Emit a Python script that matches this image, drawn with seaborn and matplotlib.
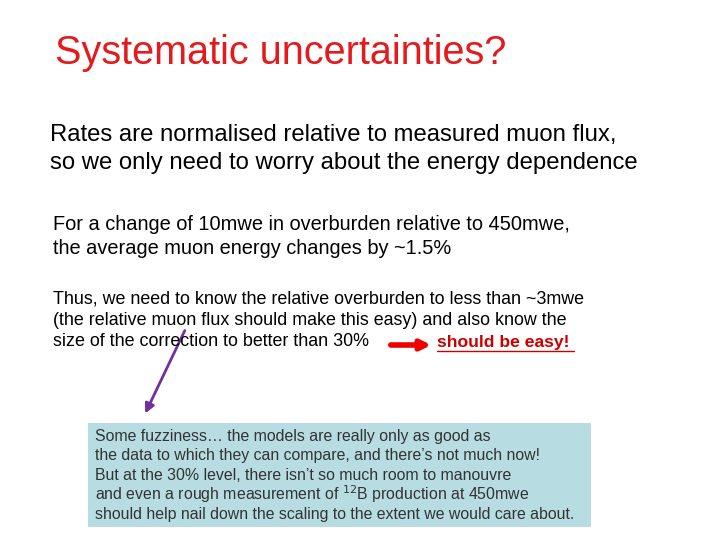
import matplotlib
matplotlib.use("Agg")
from matplotlib import pyplot as plt
from matplotlib.patches import Rectangle, FancyArrowPatch
import seaborn as sns

sns.set_theme(style="white")
plt.rcParams['font.family'] = ['Liberation Sans', 'DejaVu Sans']

title = "Systematic uncertainties?"
para1 = ["Rates are normalised relative to measured muon flux,",
         "so we only need to worry about the energy dependence"]
para2 = ["For a change of 10mwe in overburden relative to 450mwe,",
         "the average muon energy changes by ~1.5%"]
para3 = ["Thus, we need to know the relative overburden to less than ~3mwe",
         "(the relative muon flux should make this easy) and also know the",
         "size of the correction to better than 30%"]
note = "should be easy!"
box_lines = ["Some fuzziness\u2026 the models are really only as good as",
             "the data to which they can compare, and there\u2019s not much now!",
             "But at the 30% level, there isn\u2019t so much room to manouvre",
             "and even a rough measurement of $^{12}$B production at 450mwe",
             "should help nail down the scaling to the extent we would care about."]

fig = plt.figure(figsize=(7.2, 5.4), dpi=100)
ax = fig.add_axes([0, 0, 1, 1])
ax.set_xlim(0, 720)
ax.set_ylim(540, 0)
ax.axis('off')

ax.text(55, 53, title, color='#e41a1c', fontsize=28.5, va='center')
for i, s in enumerate(para1):
    ax.text(50, 135 + i * 28, s, fontsize=17.2, va='center', color='black')
for i, s in enumerate(para2):
    ax.text(53, 224 + i * 24, s, fontsize=14.4, va='center', color='black')
for i, s in enumerate(para3):
    ax.text(53, 299 + i * 21.5, s, fontsize=12.9, va='center', color='black')

ax.text(437, 342, note, color='#cc0000', fontsize=12.6, va='center', fontweight='bold')
ax.plot([437, 574], [351, 351], color='#cc0000', lw=1)

ax.add_patch(FancyArrowPatch((388, 345), (434, 345), arrowstyle='-|>', mutation_scale=14,
                             color='#ee0000', lw=4))
ax.add_patch(FancyArrowPatch((186, 328), (144, 416), arrowstyle='-|>', mutation_scale=14,
                             color='#7030a0', lw=2))

ax.add_patch(Rectangle((88, 423), 503, 104, facecolor='#b7dde3', edgecolor='none'))
for i, s in enumerate(box_lines):
    ax.text(95, 436 + i * 19.5, s, fontsize=11.4, va='center', color='#333333')

fig.savefig('out.png', dpi=100)
